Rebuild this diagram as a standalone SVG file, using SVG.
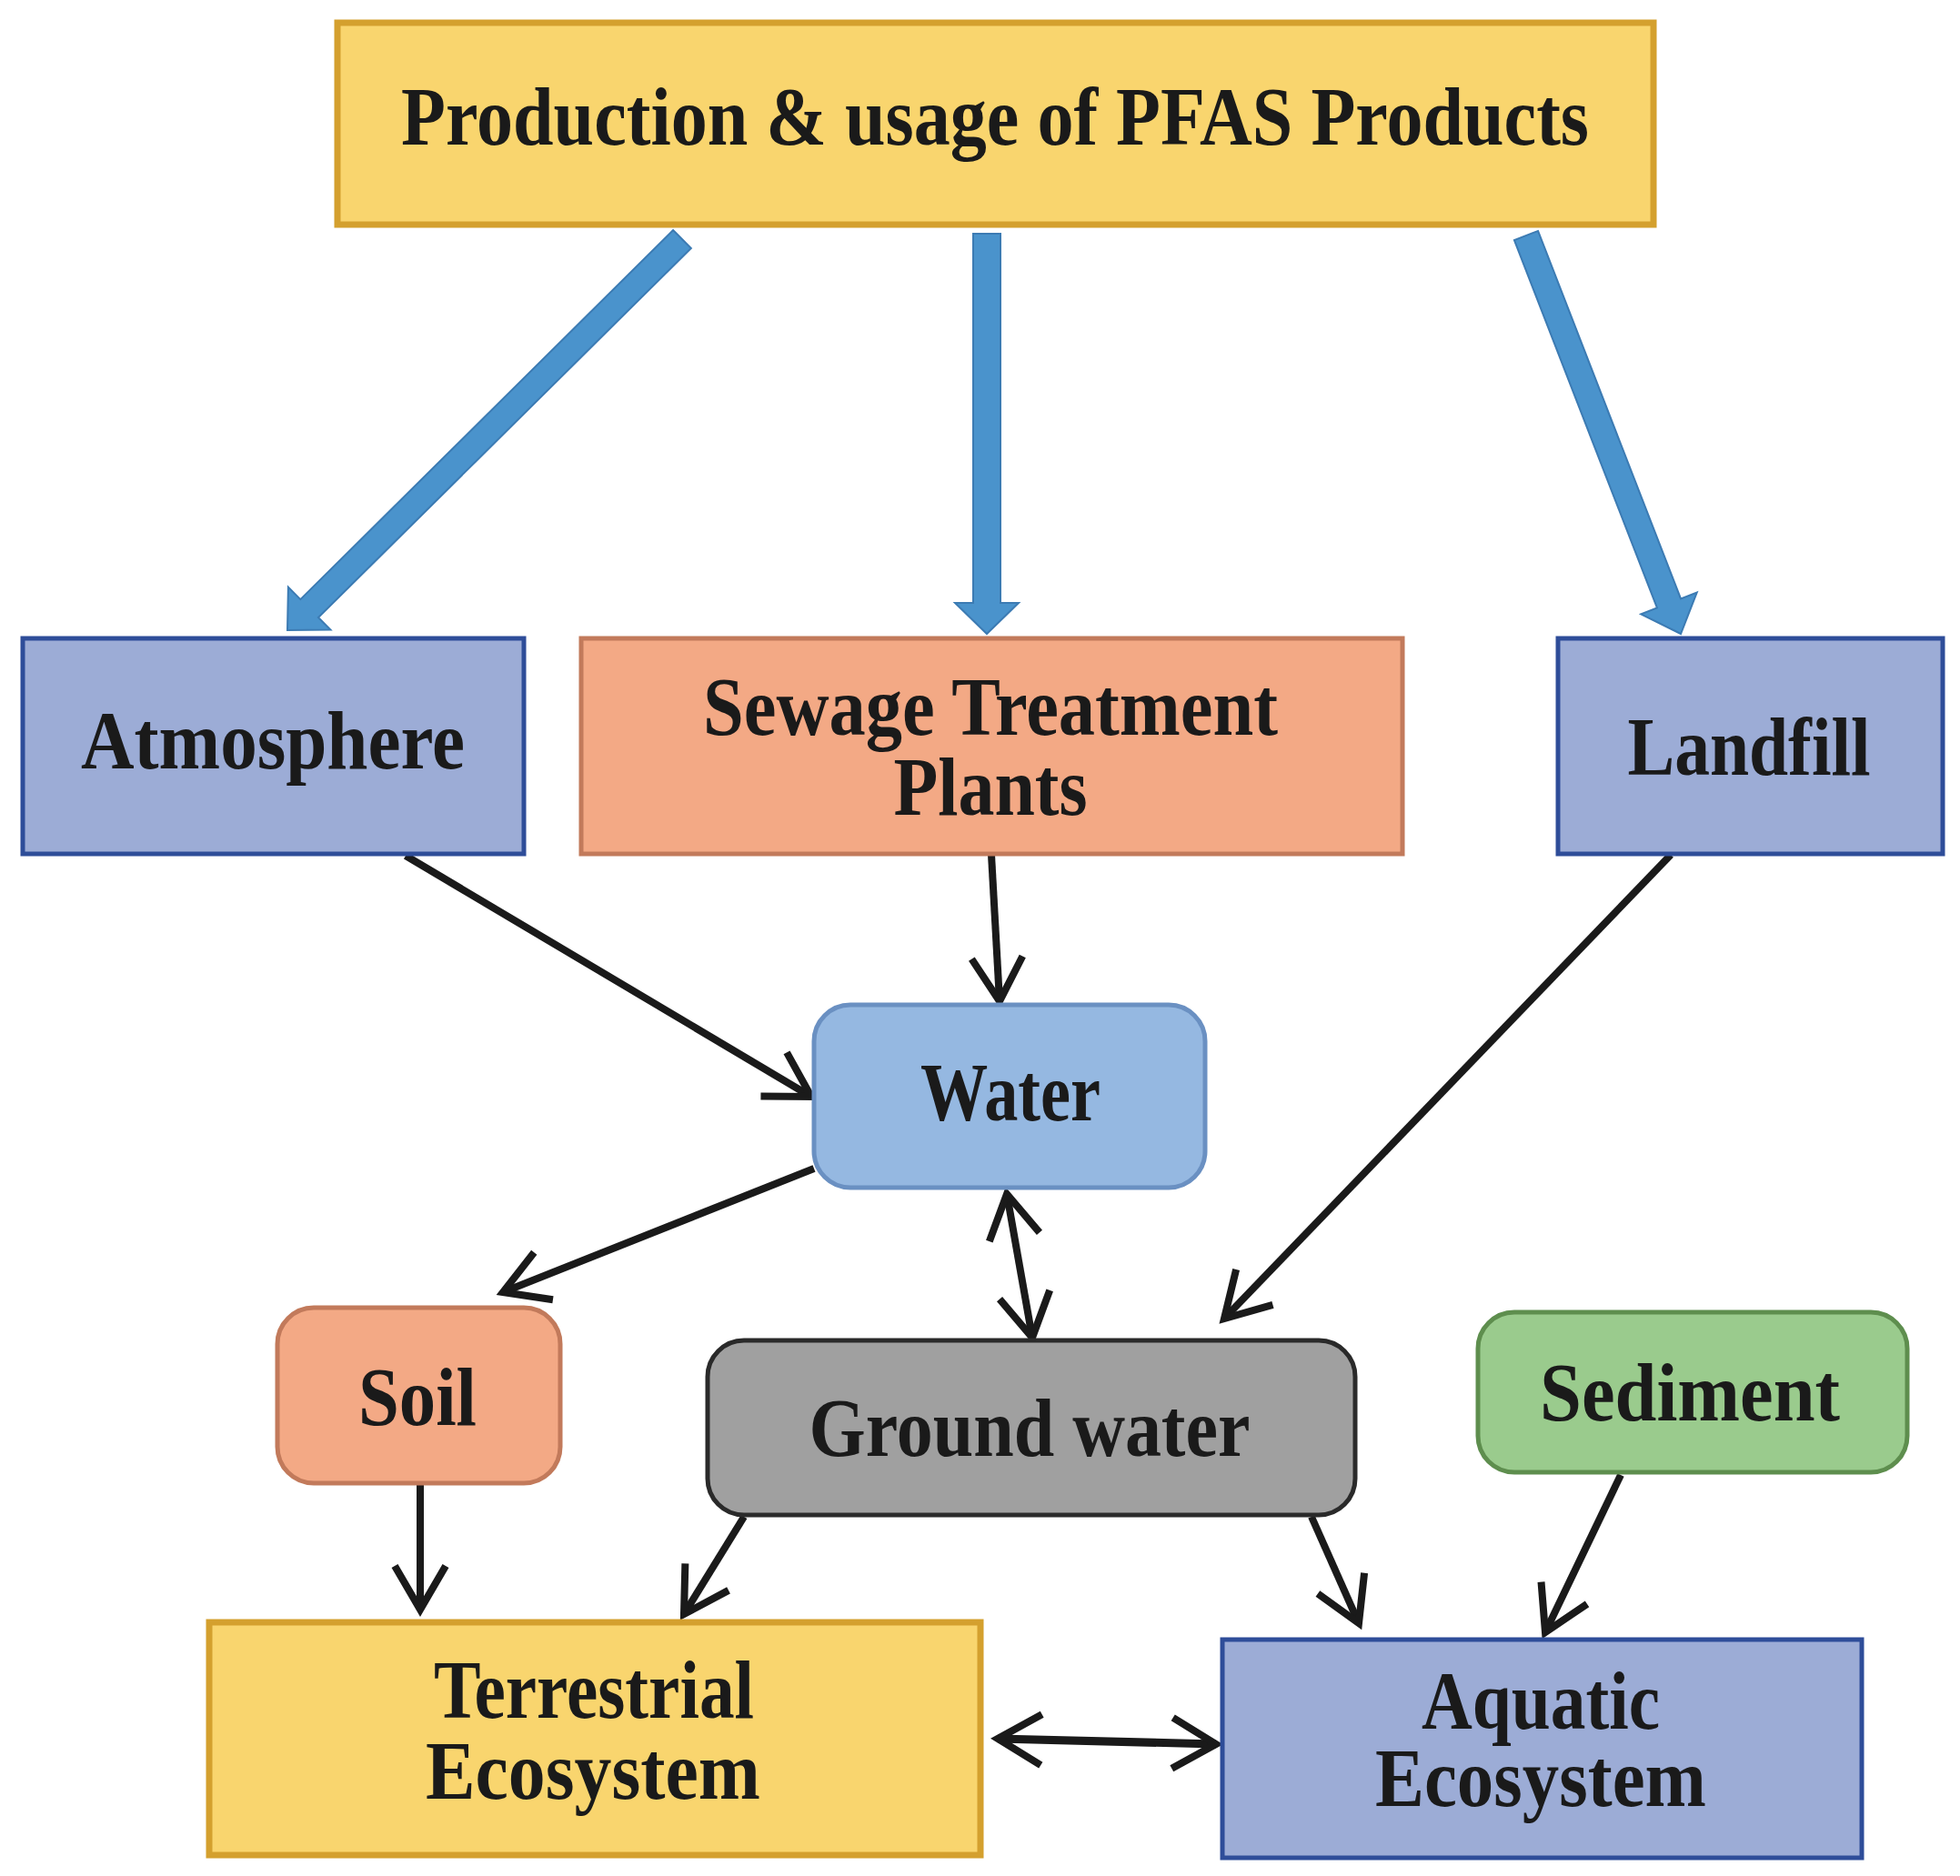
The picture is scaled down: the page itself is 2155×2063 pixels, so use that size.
<svg xmlns="http://www.w3.org/2000/svg" width="2155" height="2063" viewBox="0 0 2155 2063">
<style>
.t{font-family:"Liberation Serif","Times New Roman",serif;font-weight:bold;font-size:91px;fill:#1a1a1a;text-anchor:middle}
.yel{fill:#F9D56E;stroke:#D4A02E;stroke-width:7}
.blu{fill:#9CACD6;stroke:#2E4D99;stroke-width:5}
.org{fill:#F3A985;stroke:#C27A5B;stroke-width:5}
.wat{fill:#95B8E1;stroke:#6A90C2;stroke-width:5}
.gry{fill:#A0A0A0;stroke:#2a2a2a;stroke-width:5}
.grn{fill:#9ACB8D;stroke:#5E8E4E;stroke-width:5}
.big{fill:#4A93CC;stroke:#3C7BB3;stroke-width:2}
.ln{stroke:#1a1a1a;stroke-width:8;fill:none;marker-end:url(#ah)}
.dbl{marker-start:url(#ah)}
</style>
<defs>
<marker id="ah" markerUnits="userSpaceOnUse" orient="auto-start-reverse" viewBox="-60 -35 70 70" refX="0" refY="0" markerWidth="70" markerHeight="70">
<path d="M -48,-28 L 0,0 L -48,28" fill="none" stroke="#1a1a1a" stroke-width="8"/>
</marker>
</defs>
<rect width="2155" height="2063" fill="#ffffff"/>
<g id="connectors">
<polygon class="big" points="740.15,253.06 330.30,659.13 316.92,645.63 316,693 363.38,692.51 350.00,679.01 759.85,272.94"/>
<polygon class="big" points="1070,257 1070,663 1050,663 1085,697 1120,663 1100,663 1100,257"/>
<polygon class="big" points="1664.95,264.07 1821.92,668.51 1804.20,675.38 1848,697 1865.74,651.50 1848.02,658.37 1691.05,253.93"/>
<line class="ln" x1="446" y1="941" x2="892" y2="1206"/>
<line class="ln" x1="1090" y1="940" x2="1099" y2="1101"/>
<line class="ln" x1="895" y1="1285" x2="553" y2="1421"/>
<line class="ln dbl" x1="1107" y1="1313" x2="1135" y2="1471"/>
<line class="ln" x1="1837" y1="940" x2="1346" y2="1450"/>
<line class="ln" x1="462" y1="1632" x2="462" y2="1770"/>
<line class="ln" x1="818" y1="1668" x2="752" y2="1775"/>
<line class="ln" x1="1442" y1="1668" x2="1494" y2="1785"/>
<line class="ln" x1="1782" y1="1622" x2="1699" y2="1795"/>
<line class="ln dbl" x1="1097" y1="1912" x2="1337" y2="1918" style="stroke-width:9"/>
</g>
<g id="node-pfas">
<rect class="yel" x="371" y="25" width="1447" height="222"/>
<text class="t" x="1094" y="159" textLength="1306" lengthAdjust="spacingAndGlyphs">Production &amp; usage of PFAS Products</text>
</g>
<g id="node-atmosphere">
<rect class="blu" x="25" y="702" width="551" height="237"/>
<text class="t" x="300" y="845" textLength="422" lengthAdjust="spacingAndGlyphs">Atmosphere</text>
</g>
<g id="node-sewage">
<rect class="org" x="639" y="702" width="903" height="237"/>
<text class="t" x="1089" y="808" textLength="632" lengthAdjust="spacingAndGlyphs">Sewage Treatment</text>
<text class="t" x="1089" y="896" textLength="213" lengthAdjust="spacingAndGlyphs">Plants</text>
</g>
<g id="node-landfill">
<rect class="blu" x="1713" y="702" width="423" height="237"/>
<text class="t" x="1923" y="852" textLength="267" lengthAdjust="spacingAndGlyphs">Landfill</text>
</g>
<g id="node-water">
<rect class="wat" x="895" y="1105" width="430" height="201" rx="40"/>
<text class="t" x="1111" y="1232" textLength="198" lengthAdjust="spacingAndGlyphs">Water</text>
</g>
<g id="node-soil">
<rect class="org" x="305" y="1438" width="311" height="193" rx="40"/>
<text class="t" x="459" y="1567" textLength="130" lengthAdjust="spacingAndGlyphs">Soil</text>
</g>
<g id="node-groundwater">
<rect class="gry" x="778" y="1474" width="712" height="192" rx="40"/>
<text class="t" x="1132" y="1601" textLength="485" lengthAdjust="spacingAndGlyphs">Ground water</text>
</g>
<g id="node-sediment">
<rect class="grn" x="1625" y="1443" width="472" height="176" rx="40"/>
<text class="t" x="1858" y="1562" textLength="330" lengthAdjust="spacingAndGlyphs">Sediment</text>
</g>
<g id="node-terrestrial">
<rect class="yel" x="230" y="1784" width="848" height="256"/>
<text class="t" x="653" y="1889" textLength="352" lengthAdjust="spacingAndGlyphs">Terrestrial</text>
<text class="t" x="652" y="1978" textLength="368" lengthAdjust="spacingAndGlyphs">Ecosystem</text>
</g>
<g id="node-aquatic">
<rect class="blu" x="1344" y="1803" width="703" height="240"/>
<text class="t" x="1694" y="1901" textLength="262" lengthAdjust="spacingAndGlyphs">Aquatic</text>
<text class="t" x="1694" y="1986" textLength="364" lengthAdjust="spacingAndGlyphs">Ecosystem</text>
</g>
</svg>
